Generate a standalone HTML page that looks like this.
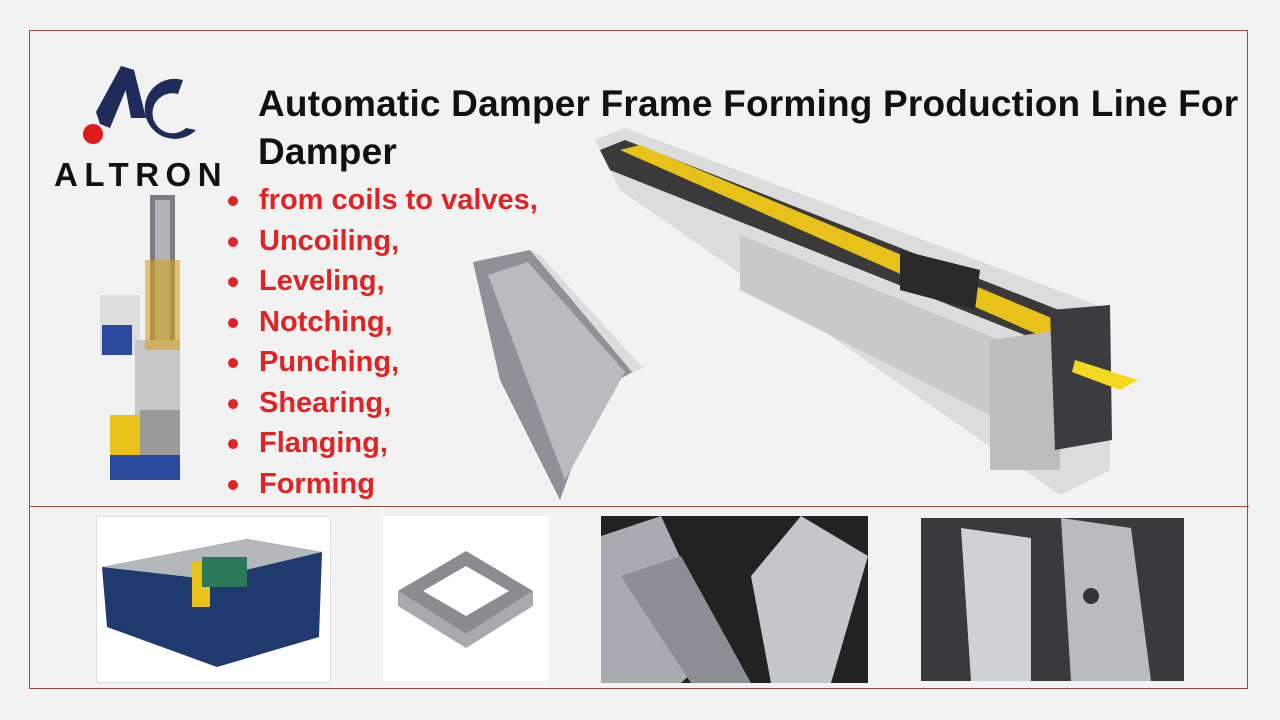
<!DOCTYPE html>
<html><head><meta charset="utf-8"><style>
body{margin:0;width:1280px;height:720px;background:#f2f2f2;position:relative;overflow:hidden;font-family:"Liberation Sans",sans-serif}
.frame{position:absolute;left:29px;top:30px;width:1219px;height:659px;border:1px solid #a04848;box-sizing:border-box}
.hl{position:absolute;left:29px;top:506px;width:1220px;height:1px;background:#a04848}
.title{position:absolute;left:258px;top:80px;font-size:37px;font-weight:bold;color:#111;line-height:48px;width:1000px;letter-spacing:0.2px}
ul{position:absolute;left:228px;top:180px;margin:0;padding:0;list-style:none}
li{font-size:29px;font-weight:bold;color:#e02424;height:40.5px;line-height:40px;padding-left:31px;position:relative}
li:before{content:"";position:absolute;left:0;top:16px;width:10px;height:10px;border-radius:50%;background:#e02424}
.altron{position:absolute;left:54px;top:156px;font-size:33px;font-weight:bold;letter-spacing:6.5px;color:#111}
.box{position:absolute}
</style></head><body>
<div class="frame"></div><div class="hl"></div>
<svg width="1280" height="720" style="position:absolute;left:0;top:0">
<polygon points="121,66 134,70 110,128 100,124 96,112" fill="#1f2c5a"/>
<polygon points="121,66 134,70 146,118 131,118" fill="#1f2c5a"/>
<path d="M183,80 A30,30 0 1 0 196,130 L186,128 A20,20 0 1 1 178,94 Z" fill="#1f2c5a"/>
<circle cx="93" cy="134" r="10" fill="#e11b1b"/>
<polygon points="595,140 625,128 1110,310 1110,470 1060,495 620,190" fill="#dcdcdc"/>
<polygon points="600,150 625,140 1110,330 1050,345 610,170" fill="#3a3a3a"/>
<polygon points="620,150 640,145 1080,330 1050,340" fill="#e8c21a"/>
<polygon points="740,235 1000,340 1000,420 740,290" fill="#c9c9c9"/>
<polygon points="990,340 1060,330 1060,470 990,470" fill="#bdbdbd"/>
<polygon points="1050,310 1110,305 1112,440 1055,450" fill="#3c3c40"/>
<polygon points="1075,360 1138,380 1120,390 1072,372" fill="#f2d81e"/>
<polygon points="900,250 980,270 975,310 900,290" fill="#2a2a2a"/>
<polygon points="473,262 530,250 640,368 600,390 560,500 500,380" fill="#8e9296"/>
<polygon points="488,275 528,262 625,372 565,480" fill="#b8bcbf"/>
<polygon points="530,250 540,255 643,368 632,372" fill="#dcdcdc"/>
<rect x="150" y="195" width="25" height="150" fill="#7a7d82"/>
<rect x="155" y="200" width="15" height="140" fill="#b0b3b6"/>
<rect x="100" y="295" width="40" height="60" fill="#dedede"/>
<rect x="102" y="325" width="30" height="30" fill="#2a4aa0"/>
<rect x="135" y="340" width="45" height="80" fill="#c7c7c7"/>
<rect x="145" y="260" width="35" height="90" fill="#d5a020" opacity=".6"/>
<rect x="110" y="415" width="35" height="40" fill="#e8c21a"/>
<rect x="140" y="410" width="40" height="70" fill="#9a9a9a"/>
<rect x="110" y="455" width="70" height="25" fill="#2a4aa0"/>
</svg>
<div class="altron">ALTRON</div>
<div class="title">Automatic Damper Frame Forming Production Line For Damper</div>
<ul><li>from coils to valves,</li><li>Uncoiling,</li><li>Leveling,</li><li>Notching,</li><li>Punching,</li><li>Shearing,</li><li>Flanging,</li><li>Forming</li></ul>
<div class="box" style="left:96px;top:516px;width:235px;height:167px;background:#fff;border:1px solid #ddd;box-sizing:border-box">
<svg width="235" height="167"><polygon points="5,50 150,22 225,35 222,120 120,150 10,110" fill="#1f3a6e"/><polygon points="5,50 150,22 225,35 110,62" fill="#b5b8bb"/><rect x="95" y="45" width="18" height="45" fill="#e8c21a"/><rect x="105" y="40" width="45" height="30" fill="#2a7a5a"/></svg></div>
<div class="box" style="left:383px;top:516px;width:166px;height:165px;background:#fff">
<svg width="166" height="165"><polygon points="15,75 83,35 150,75 83,118" fill="#8a8d90"/><polygon points="40,75 83,50 126,75 83,100" fill="#fff"/><polygon points="15,75 83,118 150,75 150,90 83,132 15,90" fill="#a8abae"/></svg></div>
<div class="box" style="left:601px;top:516px;width:267px;height:167px;background:#222">
<svg width="267" height="167"><polygon points="0,20 60,0 120,130 80,167 0,167" fill="#a8acb0"/><polygon points="150,60 200,0 267,40 230,167 170,167" fill="#c4c7ca"/><polygon points="20,60 80,40 150,167 90,167" fill="#8b8f93"/></svg></div>
<div class="box" style="left:921px;top:518px;width:263px;height:163px;background:#3a3a3c">
<svg width="263" height="163"><polygon points="40,10 110,20 110,163 50,163" fill="#cfd2d4"/><polygon points="140,0 210,10 230,163 150,163" fill="#b9bcbf"/><circle cx="170" cy="78" r="8" fill="#333"/></svg></div>
</body></html>
